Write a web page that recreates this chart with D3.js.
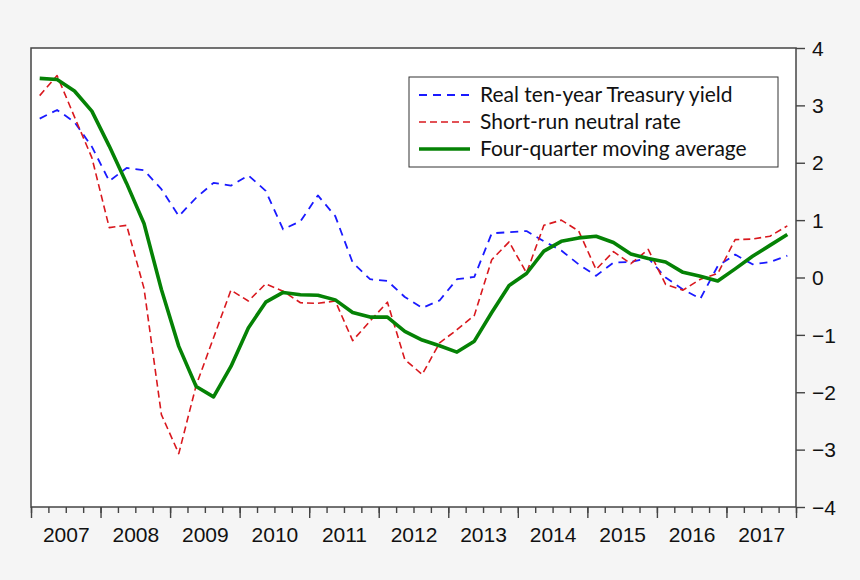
<!DOCTYPE html>
<html>
<head>
<meta charset="utf-8">
<script src="https://cdn.jsdelivr.net/npm/d3@7"></script>
<style>
  body { margin: 0; background: #f5f5f5; }
  svg { display: block; }
</style>
</head>
<body>
<div id="root"></div>
<script>
// ---------------------------- DATA ----------------------------
const years = [2007, 2008, 2009, 2010, 2011, 2012, 2013, 2014, 2015, 2016, 2017];
const quarterNames = ["Q1", "Q2", "Q3", "Q4"];
// quarterly observations, 2007Q1 to 2017Q4
const quarters = years.flatMap(y => quarterNames.map(q => y + q));

const realTenYear = [
    2.77, 2.92, 2.71, 2.28, 1.68, 1.91, 1.87, 1.54, 1.07, 1.39, 1.65, 1.60,
    1.78, 1.51, 0.84, 0.98, 1.43, 1.07, 0.26, -0.03, -0.06, -0.34, -0.53, -0.40,
    -0.03, 0.01, 0.77, 0.79, 0.81, 0.63, 0.47, 0.23, 0.03, 0.26, 0.27, 0.34,
    0.00, -0.21, -0.37, 0.20, 0.40, 0.23, 0.27, 0.38
];
const shortRunNeutral = [
    3.17, 3.52, 2.80, 2.09, 0.87, 0.91, -0.19, -2.39, -3.07, -1.88, -1.05, -0.22,
    -0.41, -0.11, -0.24, -0.44, -0.45, -0.41, -1.10, -0.76, -0.43, -1.43, -1.69, -1.14,
    -0.91, -0.66, 0.31, 0.62, 0.08, 0.91, 1.00, 0.81, 0.14, 0.45, 0.24, 0.49,
    -0.12, -0.22, -0.03, 0.07, 0.66, 0.67, 0.72, 0.90
];
const movingAverage = [
    3.47, 3.45, 3.25, 2.90, 2.29, 1.64, 0.94, -0.21, -1.20, -1.90, -2.08, -1.55,
    -0.88, -0.43, -0.26, -0.30, -0.31, -0.39, -0.61, -0.69, -0.69, -0.94, -1.09, -1.19,
    -1.30, -1.11, -0.61, -0.14, 0.07, 0.46, 0.63, 0.69, 0.72, 0.61, 0.41, 0.33,
    0.27, 0.09, 0.02, -0.06, 0.15, 0.37, 0.56, 0.75
];
const yTicks = [-4, -3, -2, -1, 0, 1, 2, 3, 4];

const seriesInfo = [
    { name: "Real ten-year Treasury yield", values: realTenYear, color: "#1a1aff", width: 1.8, dash: "8,6" },
    { name: "Short-run neutral rate", values: shortRunNeutral, color: "#d9181e", width: 1.6, dash: "7,4" },
    { name: "Four-quarter moving average", values: movingAverage, color: "#058205", width: 3.6, dash: null }
];

// ---------------------------- SETUP ----------------------------
const width = 860;
const height = 580;
const plot = { left: 31, top: 48, right: 796, bottom: 507 };
const axisFont = "'Liberation Sans', Arial, sans-serif";

const svg = d3.select("#root")
    .append("svg")
    .attr("width", width)
    .attr("height", height);

const x = d3.scaleLinear()
    .domain([years[0], years[years.length - 1] + 1])
    .range([plot.left, plot.right]);
const y = d3.scaleLinear()
    .domain([-4, 4])
    .range([plot.bottom, plot.top]);

// x position of a quarter = its middle
const xQuarter = i => x(years[0] + (i + 0.5) / 4);

// plot background
svg.append("rect")
    .attr("x", plot.left)
    .attr("y", plot.top)
    .attr("width", plot.right - plot.left)
    .attr("height", plot.bottom - plot.top)
    .attr("fill", "#fff");

// ---------------------------- AXES ----------------------------
const quarterBounds = d3.range(quarters.length + 1).map(i => years[0] + i / 4);

const minorAxis = svg.append("g")
    .attr("transform", "translate(0," + plot.bottom + ")")
    .call(d3.axisBottom(x).tickValues(quarterBounds).tickSize(6).tickFormat(""));
const majorAxis = svg.append("g")
    .attr("transform", "translate(0," + plot.bottom + ")")
    .call(d3.axisBottom(x).tickValues(years.concat([years[years.length - 1] + 1])).tickSize(11).tickFormat(""));
const labelAxis = svg.append("g")
    .attr("transform", "translate(0," + plot.bottom + ")")
    .call(d3.axisBottom(x).tickValues(years.map(d => d + 0.5)).tickSize(0).tickPadding(20).tickFormat(d => Math.floor(d)));

const rightAxis = svg.append("g")
    .attr("transform", "translate(" + plot.right + ",0)")
    .call(d3.axisRight(y).tickValues(yTicks).tickSize(9).tickPadding(7).tickFormat(d3.format("d")));

[minorAxis, majorAxis, labelAxis, rightAxis].forEach(g => {
    g.attr("font-family", axisFont).attr("font-size", 21);
    g.select(".domain").remove();
    g.selectAll("line").attr("stroke", "#444").attr("stroke-width", 1.4);
    g.selectAll("text").attr("fill", "#111");
});
rightAxis.selectAll("text").attr("dy", "0.34em");

// ---------------------------- LINES ----------------------------
const line = d3.line()
    .x((d, i) => xQuarter(i))
    .y(d => y(d));

svg.append("g")
    .selectAll("path")
    .data(seriesInfo)
    .enter()
    .append("path")
    .attr("d", d => line(d.values))
    .attr("fill", "none")
    .attr("stroke", d => d.color)
    .attr("stroke-width", d => d.width)
    .attr("stroke-dasharray", d => d.dash)
    .attr("stroke-linejoin", "round");

// plot frame
svg.append("rect")
    .attr("x", plot.left)
    .attr("y", plot.top)
    .attr("width", plot.right - plot.left)
    .attr("height", plot.bottom - plot.top)
    .attr("fill", "none")
    .attr("stroke", "#444")
    .attr("stroke-width", 1.5);

// ---------------------------- LEGEND ----------------------------
const legend = svg.append("g")
    .attr("transform", "translate(409,77)");

legend.append("rect")
    .attr("width", 369)
    .attr("height", 90)
    .attr("fill", "#fff")
    .attr("stroke", "#333")
    .attr("stroke-width", 1);

const legendRow = legend.selectAll(".legendRow")
    .data(seriesInfo)
    .enter()
    .append("g")
    .attr("class", "legendRow")
    .attr("transform", (d, i) => "translate(0," + (18 + i * 27) + ")");

legendRow.append("line")
    .attr("x1", 10)
    .attr("x2", 61)
    .attr("stroke", d => d.color)
    .attr("stroke-width", d => d.width)
    .attr("stroke-dasharray", d => d.dash);

legendRow.append("text")
    .attr("x", 71)
    .attr("dy", "0.35em")
    .attr("font-family", "Lato, 'Open Sans', sans-serif")
    .attr("font-size", 21)
    .attr("fill", "#111")
    .text(d => d.name);
</script>
</body>
</html>
